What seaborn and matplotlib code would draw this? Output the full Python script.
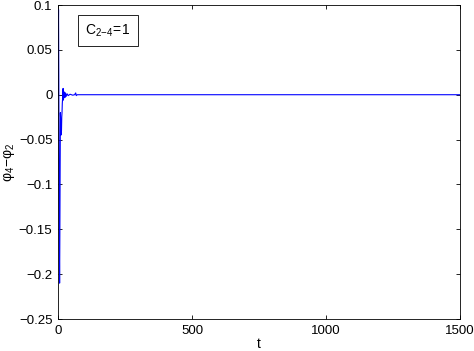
import matplotlib
matplotlib.use("Agg")
import matplotlib.pyplot as plt
import seaborn as sns
import pandas as pd

# Data
t_vals = [0, 1, 2, 3, 4, 5, 6, 7, 8, 9, 10, 11, 12, 13, 14, 15, 16, 17, 18, 19, 20,
          22, 24, 26, 28, 30, 34, 38, 45, 55, 62, 66, 68, 72, 1500]
psi_diff = [0.0, 0.06, 0.095, 0.02, -0.08, -0.17, -0.21, -0.15, -0.08, -0.02, -0.03,
            -0.045, -0.035, -0.04, -0.025, -0.02, -0.01, -0.005, 0.004, 0.007, -0.006,
            -0.002, 0.003, -0.003, 0.002, -0.002, 0.001, -0.001, 0.0005, -0.0005, 0.0,
            0.002, -0.001, 0.0, 0.0]
x_ticks = [0, 500, 1000, 1500]
y_ticks = [0.1, 0.05, 0, -0.05, -0.1, -0.15, -0.2, -0.25]
y_tick_labels = ["0.1", "0.05", "0", "\u22120.05", "\u22120.1", "\u22120.15", "\u22120.2", "\u22120.25"]

sns.set_style("ticks")
plt.rcParams["font.family"] = ["Liberation Sans", "DejaVu Sans"]
plt.rcParams["mathtext.fontset"] = "custom"
plt.rcParams["mathtext.rm"] = "Liberation Sans"
plt.rcParams["mathtext.it"] = "Liberation Sans"
plt.rcParams["mathtext.default"] = "regular"
for k in ["text.color", "axes.labelcolor", "xtick.color", "ytick.color", "axes.edgecolor"]:
    plt.rcParams[k] = "black"

df = pd.DataFrame({"t": t_vals, "psi": psi_diff})

fig = plt.figure(figsize=(4.74, 3.51), dpi=100)
ax = fig.add_axes([58 / 474, 1 - 319 / 351, (460 - 58) / 474, (319 - 5) / 351])
sns.lineplot(data=df, x="t", y="psi", ax=ax, color=(0, 0, 1), linewidth=0.8,
             estimator=None, sort=False)

ax.set_xlim(0, 1500)
ax.set_ylim(-0.25, 0.1)
ax.set_xticks(x_ticks)
ax.set_xticklabels([str(v) for v in x_ticks])
ax.set_yticks(y_ticks)
ax.set_yticklabels(y_tick_labels)
ax.tick_params(direction="in", length=3, width=0.6, labelsize=9.5,
               top=True, right=True, pad=4, colors="black")
for s in ax.spines.values():
    s.set_visible(True)
    s.set_linewidth(0.6)
    s.set_color("black")

ax.set_xlabel("t", fontsize=10, labelpad=0)
ax.set_ylabel(r"$\varphi_4\!-\!\varphi_2$", fontsize=10, labelpad=1)

ax.text(0.068, 0.945, r"$C_{2\!-\!4}\!=\!1$", transform=ax.transAxes, fontsize=10,
        va="top", ha="left",
        bbox=dict(boxstyle="square,pad=0.5", facecolor="white", edgecolor="black",
                  linewidth=0.6))

fig.savefig("out.png", dpi=100)
